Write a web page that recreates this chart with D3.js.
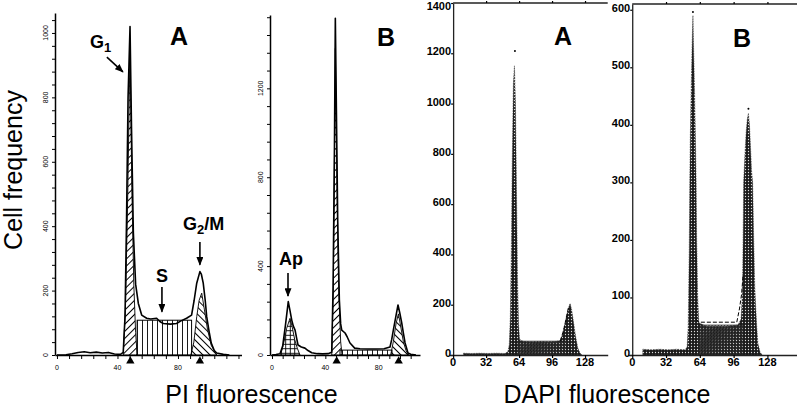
<!DOCTYPE html>
<html>
<head>
<meta charset="utf-8">
<script src="https://cdn.jsdelivr.net/npm/d3@7"></script>
<style>
body { margin: 0; background: #fff; }
svg { display: block; font-family: Arial, "Liberation Sans", sans-serif; }
text { fill: #000; }
</style>
</head>
<body>
<svg id="fig" width="797" height="409"></svg>
<script>
// ---- PI panel A : [channel, cell count] ----
var piAHist = [[0,0],[6,1],[10,4],[14,8],[18,10],[22,7],[26,9],[30,6],[34,8],[38,3],[42,2],[43.8,8],
  [45,120],[46,420],[47,800],[48.3,1020],[49.3,700],[50.5,380],[52,220],[53.8,160],[56,124],[59.3,114],
  [62,112],[65.9,114],[68,104],[70.3,98],[75,96],[79,98],[82,106],[85.7,114],[89,124],[90.7,170],
  [92.4,223],[94.5,259],[95.5,250],[96.7,223],[98,170],[99,119],[100.5,75],[102,37],[104,14],[105.6,6],[110,2],[114,0]];
var piAG1 = [[43.8,0],[45.3,150],[46.8,500],[48.3,950],[49.5,520],[50.8,220],[52,70],[53,0]];
var piAG2 = [[88.5,0],[90.5,40],[92.4,119],[94,170],[95.7,192],[97.5,140],[99.5,80],[102,30],[105.6,0]];
var piAS = [53, 89, 108];           // start channel, end channel, height
var piAMarks = [48.5, 94.5];
var piAYLabels = [0, 200, 400, 600, 800, 1000];

// ---- PI panel B ----
var piBHist = [[0,0],[3,2],[6,6],[8,40],[10,130],[12.2,240],[13.5,200],[14.8,157],[16,130],[17.3,112],
  [18.5,75],[19.5,45],[22,36],[24.7,31],[27,20],[29.8,10],[34,6],[38,5],[42,6],[44.8,12],[45.8,300],
  [46.8,900],[47.5,1515],[48.3,1100],[49.3,600],[50.5,250],[51.5,140],[52.3,112],[54.8,99],[56.5,80],
  [58.5,54],[62,31],[66,28],[72,27],[78,27],[84,28],[88.5,36],[89.8,70],[91,112],[92.8,170],[94.5,225],
  [95.8,190],[97.3,144],[98.5,100],[99.8,54],[102,9],[104,3],[108,0]];
var piBAp = [[6.5,0],[9,60],[11,120],[13.5,165],[15,130],[17,70],[19,30],[21,0]];
var piBG1 = [[44.8,0],[46,300],[47.5,1380],[48.6,800],[50,300],[51.5,60],[52.5,0]];
var piBG2 = [[89,0],[91,60],[93,140],[94.8,185],[96.5,130],[98.5,60],[100.5,20],[102.5,0]];
var piBS = [51, 90, 22];
var piBMarks = [48.5, 95];
var piBYLabels = [0, 400, 800, 1200];

var piXLabels = [0, 40, 80];

// ---- DAPI panel A ----
var dapiAHist = [[10,7],[18,6],[26,7],[34,6],[42,7],[50,6],[53,12],[54.5,40],[55.5,150],[56.5,420],
  [57.5,800],[58.5,1080],[59.5,1150],[60.5,1000],[61.5,650],[62.5,300],[63.5,120],[64.5,62],[68,54],
  [76,52],[84,53],[92,52],[100,54],[104,58],[106,80],[108,115],[110,155],[112,188],[113.5,205],
  [115,180],[117,125],[119,70],[121,28],[123,8],[125,0]];
var dapiAS = [63, 110, 55];
var dapiAFit = [[104,56],[107,95],[110,150],[112,190]];
var dapiATop = [[60,1209]];
var dapiAYLabels = [0, 200, 400, 600, 800, 1000, 1200, 1400];

// ---- DAPI panel B ----
var dapiBHist = [[10,10],[18,9],[26,10],[34,9],[42,10],[50,9],[52,14],[53,50],[54,180],[54.5,300],
  [55,380],[56,480],[57,560],[57.5,590],[58,540],[59,460],[60,360],[60.5,300],[61,200],[62,100],
  [63,56],[70,50],[80,50],[90,50],[100,52],[103,62],[104,95],[104.5,130],[105,200],[105.5,300],
  [107,360],[108,390],[109,410],[110,420],[111,400],[112,360],[113,320],[114,300],[115,200],
  [116,120],[117,80],[118,45],[119,20],[121,5],[123,0]];
var dapiBS = [63, 105, 52];
var dapiBFit = [[60.5,62],[63,57],[99,57],[101.5,80],[103.5,105],[105,140]];
var dapiBTop = [[57.5,596],[110,428]];
var dapiBYLabels = [0, 100, 200, 300, 400, 500, 600];

var dapiXLabels = [0, 32, 64, 96, 128];

var svg = d3.select('#fig');
var defs = svg.append('defs');

// hatch patterns
function linePattern(id, w, angle, color, sw) {
  var p = defs.append('pattern').attr('id', id).attr('patternUnits', 'userSpaceOnUse')
    .attr('width', w).attr('height', w).attr('patternTransform', 'rotate(' + angle + ')');
  p.append('line').attr('x1', w/2).attr('y1', 0).attr('x2', w/2).attr('y2', w)
    .attr('stroke', color).attr('stroke-width', sw);
  return p;
}
linePattern('hatchUp', 5, 45, '#000', 1);
linePattern('hatchDown', 5, -45, '#000', 1);
linePattern('vlines', 5, 0, '#000', 0.9);
var grid = linePattern('grid', 4.5, 0, '#000', 0.9);
grid.append('line').attr('x1', 0).attr('y1', 2.25).attr('x2', 4.5).attr('y2', 2.25)
  .attr('stroke', '#000').attr('stroke-width', 0.9);
linePattern('fine', 2.2, 45, '#333', 0.9);

var dots = defs.append('pattern').attr('id', 'dots').attr('patternUnits', 'userSpaceOnUse')
  .attr('width', 3).attr('height', 3);
dots.append('rect').attr('width', 3).attr('height', 3).attr('fill', '#1a1a1a');
dots.append('circle').attr('cx', 1.5).attr('cy', 1.5).attr('r', 0.65).attr('fill', '#ddd');

defs.append('marker').attr('id', 'arrow').attr('viewBox', '0 0 10 8')
  .attr('refX', 9).attr('refY', 4).attr('markerUnits', 'userSpaceOnUse')
  .attr('markerWidth', 9).attr('markerHeight', 7).attr('orient', 'auto')
  .append('path').attr('d', 'M0,0L10,4L0,8z').attr('fill', '#000');

var baseY = 355;

function arrow(g, x1, y1, x2, y2) {
  g.append('line').attr('x1', x1).attr('y1', y1).attr('x2', x2).attr('y2', y2)
    .attr('stroke', '#000').attr('stroke-width', 1.6).attr('marker-end', 'url(#arrow)');
}

function label(g, txt, x, y, size, anchor) {
  return g.append('text').attr('x', x).attr('y', y).attr('font-size', size)
    .attr('font-weight', 'bold').attr('text-anchor', anchor || 'start').text(txt);
}

//PI style panel: thin axes, rotated tick labels, hatched components
function piPanel(p) {
  var x = d3.scaleLinear().domain(p.xDomain).range(p.xRange);
  var y = d3.scaleLinear().domain([0, p.yMax]).range([baseY, p.yTop]);
  var g = svg.append('g');
  var area = d3.area().x(function(d) { return x(d[0]); }).y0(y(0)).y1(function(d) { return y(d[1]); });

  p.parts.forEach(function(part) {
    g.append('path').datum(part.data).attr('d', area)
      .attr('fill', 'url(#' + part.fill + ')').attr('stroke', '#000').attr('stroke-width', 0.9);
  });
  g.append('rect')
    .attr('x', x(p.s[0])).attr('y', y(p.s[2]))
    .attr('width', x(p.s[1]) - x(p.s[0])).attr('height', y(0) - y(p.s[2]))
    .attr('fill', 'url(#vlines)').attr('stroke', '#000').attr('stroke-width', 1);

  g.append('path').datum(p.hist)
    .attr('d', d3.line().x(function(d) { return x(d[0]); }).y(function(d) { return y(d[1]); }))
    .attr('fill', 'none').attr('stroke', '#000').attr('stroke-width', 1.6).attr('stroke-linejoin', 'round');

  var yAx = g.append('g').attr('transform', 'translate(' + x(p.xDomain[0]) + ',0)')
    .call(d3.axisLeft(y).tickValues(d3.range(0, p.yMax, p.yStep)).tickSize(3).tickSizeOuter(0).tickFormat(''));
  var xAx = g.append('g').attr('transform', 'translate(0,' + baseY + ')')
    .call(d3.axisBottom(x).tickValues(d3.range(0, p.xDomain[1], 8)).tickSize(4).tickSizeOuter(0).tickFormat(''));
  [yAx, xAx].forEach(function(a) {
    a.select('.domain').attr('stroke-width', 1.5);
    a.selectAll('.tick line').attr('stroke-width', 1);
  });

  g.selectAll('.ylab').data(p.yLabels).enter().append('text')
    .attr('transform', function(d) { return 'translate(' + (x(p.xDomain[0]) - 7) + ',' + y(d) + ') rotate(-90)'; })
    .attr('text-anchor', 'middle').attr('font-size', 7).text(function(d) { return d; });
  g.selectAll('.xlab').data(piXLabels).enter().append('text')
    .attr('x', function(d) { return x(d); }).attr('y', baseY + 15)
    .attr('text-anchor', 'middle').attr('font-size', 7).text(function(d) { return d; });

  g.selectAll('.mark').data(p.marks).enter().append('path')
    .attr('d', d3.symbol(d3.symbolTriangle, 30))
    .attr('transform', function(d) { return 'translate(' + x(d) + ',' + (baseY + 6) + ')'; })
    .attr('fill', '#000');

  return { g: g, x: x, y: y };
}

//DAPI style panel: boxed top, bold tick labels, stippled peaks
function dapiPanel(p) {
  var x = d3.scaleLinear().domain(p.xDomain).range(p.xRange);
  var y = d3.scaleLinear().domain([0, p.yMax]).range([baseY, p.yTop]);
  var g = svg.append('g');

  g.append('path').datum(p.hist)
    .attr('d', d3.area().x(function(d) { return x(d[0]); }).y0(y(0)).y1(function(d) { return y(d[1]); }))
    .attr('fill', 'url(#dots)').attr('stroke', '#333').attr('stroke-width', 0.6).attr('stroke-dasharray', '1.5,1');
  g.append('rect')
    .attr('x', x(p.s[0])).attr('y', y(p.s[2]))
    .attr('width', x(p.s[1]) - x(p.s[0])).attr('height', y(0) - y(p.s[2]))
    .attr('fill', 'url(#fine)').attr('stroke', '#222').attr('stroke-width', 0.8);
  g.append('path').datum(p.fit)
    .attr('d', d3.line().x(function(d) { return x(d[0]); }).y(function(d) { return y(d[1]); }))
    .attr('fill', 'none').attr('stroke', '#000').attr('stroke-width', 1).attr('stroke-dasharray', '4,2');
  g.selectAll('.top').data(p.tops).enter().append('circle')
    .attr('cx', function(d) { return x(d[0]); }).attr('cy', function(d) { return y(d[1]); })
    .attr('r', 1).attr('fill', '#000');

  var yAx = g.append('g').attr('transform', 'translate(' + x(0) + ',0)')
    .call(d3.axisLeft(y).tickValues(p.yLabels).tickSize(2).tickSizeOuter(0).tickFormat(''));
  var xAx = g.append('g').attr('transform', 'translate(0,' + baseY + ')')
    .call(d3.axisBottom(x).tickValues(dapiXLabels).tickSize(3).tickSizeOuter(0).tickFormat(''));
  var topAx = g.append('g').attr('transform', 'translate(0,' + p.yTop + ')')
    .call(d3.axisTop(x).tickValues(dapiXLabels.slice(1)).tickSize(2).tickSizeOuter(0).tickFormat(''));
  topAx.select('.domain').attr('d', 'M' + x(0) + ',0H' + p.xRange[1]);
  [yAx, xAx, topAx].forEach(function(a) {
    a.select('.domain').attr('stroke', '#222').attr('stroke-width', 1.3);
    a.selectAll('.tick line').attr('stroke-width', 1.2);
  });

  // top label would clip at the edge, keep it inside
  g.selectAll('.ylab').data(p.yLabels).enter().append('text')
    .attr('x', x(0) - 2).attr('y', function(d) { return Math.max(y(d) + 2, 10); })
    .attr('text-anchor', 'end').attr('font-size', 11).attr('font-weight', 'bold')
    .text(function(d) { return d; });
  g.selectAll('.xlab').data(dapiXLabels).enter().append('text')
    .attr('x', function(d) { return x(d); }).attr('y', baseY + 11)
    .attr('text-anchor', 'middle').attr('font-size', 11).attr('font-weight', 'bold')
    .text(function(d) { return d; });

  return { g: g, x: x, y: y };
}

var pA = piPanel({
  xDomain: [-1.3, 122], xRange: [55, 241.5], yMax: 1062, yTop: 13, yStep: 40,
  hist: piAHist, s: piAS, marks: piAMarks, yLabels: piAYLabels,
  parts: [{ data: piAG1, fill: 'hatchUp' }, { data: piAG2, fill: 'hatchDown' }]
});
var pB = piPanel({
  xDomain: [-1.5, 111], xRange: [270, 420], yMax: 1530, yTop: 15, yStep: 80,
  hist: piBHist, s: piBS, marks: piBMarks, yLabels: piBYLabels,
  parts: [{ data: piBAp, fill: 'grid' }, { data: piBG1, fill: 'hatchUp' }, { data: piBG2, fill: 'hatchDown' }]
});
var pC = dapiPanel({
  xDomain: [-4, 150], xRange: [449, 607.7], yMax: 1400, yTop: 3,
  hist: dapiAHist, s: dapiAS, fit: dapiAFit, tops: dapiATop, yLabels: dapiAYLabels
});
var pD = dapiPanel({
  xDomain: [-4, 156], xRange: [628, 797], yMax: 610, yTop: 4,
  hist: dapiBHist, s: dapiBS, fit: dapiBFit, tops: dapiBTop, yLabels: dapiBYLabels
});

// annotations
var gl = label(pA.g, 'G', pA.x(21.8), pA.y(953), 18);
gl.append('tspan').attr('dy', 4).attr('font-size', 13).text('1');
arrow(pA.g, pA.x(33), pA.y(925), pA.x(43.6), pA.y(879));
label(pA.g, 'A', pA.x(80.7), pA.y(963), 25, 'middle');
label(pA.g, 'S', pA.x(69.4), pA.y(227), 18, 'middle');
arrow(pA.g, pA.x(69.4), pA.y(211), pA.x(69.4), pA.y(134));
var g2 = label(pA.g, 'G', pA.x(83.3), pA.y(388), 18);
g2.append('tspan').attr('dy', 4).attr('font-size', 13).text('2');
g2.append('tspan').attr('dy', -4).text('/M');
arrow(pA.g, pA.x(94.5), pA.y(351), pA.x(94.5), pA.y(280));

label(pB.g, 'B', pB.x(85.5), pB.y(1390), 25, 'middle');
label(pB.g, 'Ap', pB.x(14.3), pB.y(405), 18, 'middle');
arrow(pB.g, pB.x(12), pB.y(369), pB.x(12), pB.y(265));

label(pC.g, 'A', pC.x(106.7), pC.y(1233), 25, 'middle');
label(pD.g, 'B', pD.x(104), pD.y(536), 25, 'middle');

// axis titles
svg.append('text').attr('transform', 'translate(22,170) rotate(-90)')
  .attr('text-anchor', 'middle').attr('font-size', 25).text('Cell frequency');
svg.append('text').attr('x', 251.5).attr('y', 403)
  .attr('text-anchor', 'middle').attr('font-size', 25).text('PI fluorescence');
svg.append('text').attr('x', 607).attr('y', 403)
  .attr('text-anchor', 'middle').attr('font-size', 25).text('DAPI fluorescence');
</script>
</body>
</html>
